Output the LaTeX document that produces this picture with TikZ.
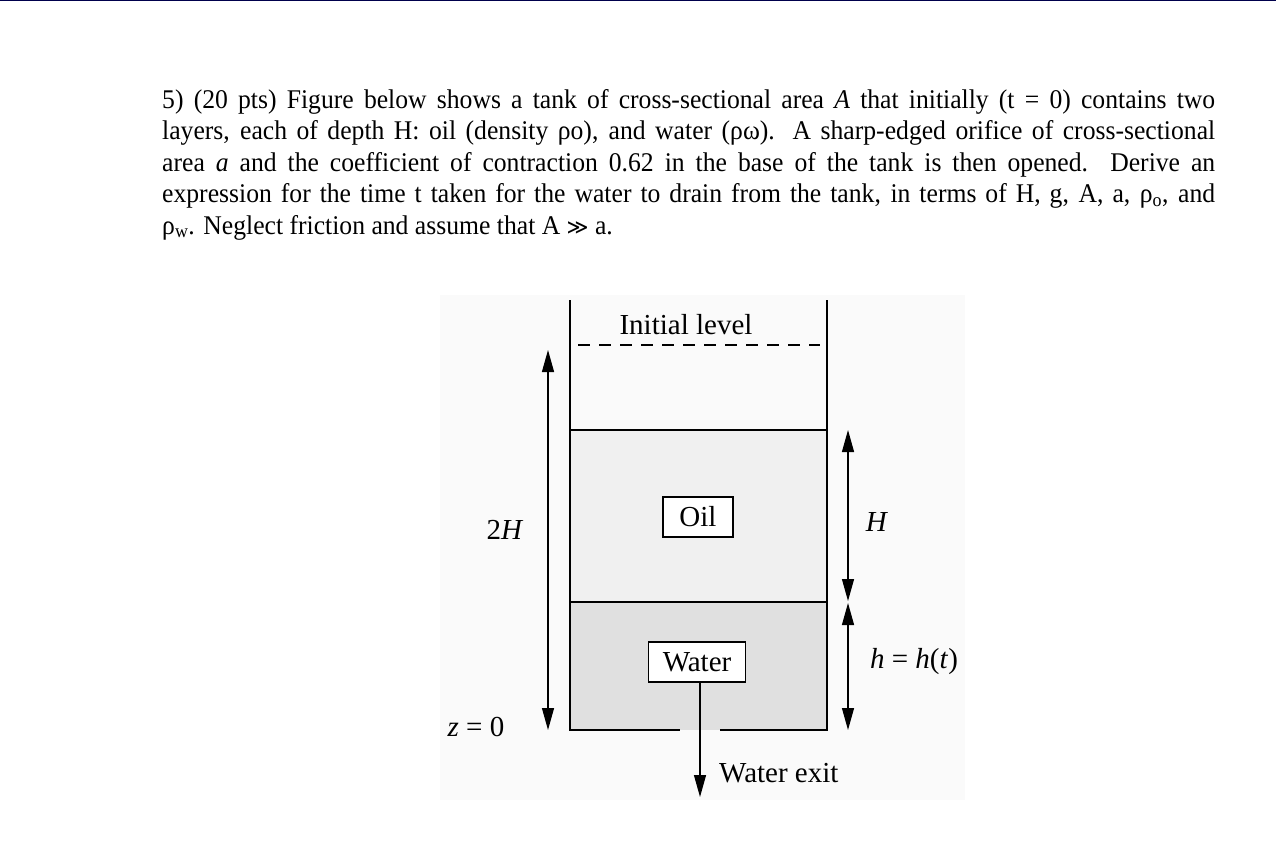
\documentclass[tikz,border=0pt]{standalone}
\usepackage{fontspec}
\setmainfont{Liberation Serif}
\newfontfamily\qfont{Liberation Serif}[FakeStretch=0.95]
\newfontfamily\symfont{DejaVu Sans}
\usetikzlibrary{arrows.meta}
\begin{document}
\begin{tikzpicture}[x=1pt,y=-1pt,
  lbl/.style={font=\fontsize{29}{32}\selectfont, inner sep=1pt},
  wall/.style={line width=1.3pt},
  dim/.style={line width=1.2pt,{Triangle[length=22pt,width=12pt]}-{Triangle[length=22pt,width=12pt]}},
  tag/.style={lbl, draw, line width=1.3pt, fill=white, inner sep=0pt, minimum height=40pt}]
\useasboundingbox (0,0) rectangle (1276,843);
\fill[white] (0,0) rectangle (1276,843);
\draw[line width=2pt, color=black!70!blue] (0,0) -- (1276,0);
\node[anchor=north west, text width=1053pt, align=justify, inner sep=0pt,
  font=\qfont\fontsize{27}{31.5}\selectfont] (q) at (162,89) {5) (20 pts) Figure below shows a tank of cross-sectional area \textit{A} that initially (t = 0) contains two\linebreak layers, each of depth H: oil (density ρo), and water (ρω). A sharp-edged orifice of cross-sectional\linebreak area \textit{a} and the coefficient of contraction 0.62 in the base of the tank is then opened. Derive an\linebreak expression for the time t taken for the water to drain from the tank, in terms of H, g, A, a, ρ\textsubscript{o}, and\linebreak ρ\textsubscript{w}. Neglect friction and assume that A {\symfont\fontsize{21}{20}\selectfont ≫} a.};
\fill[black!2] (440,295) rectangle (965,800);
\fill[black!6] (570,430) rectangle (827,602);
\fill[black!12] (570,602) rectangle (827,730);
\draw[wall] (570,300) -- (570,730) -- (680,730);
\draw[wall] (720,730) -- (827,730) -- (827,300);
\draw[wall] (570,430) -- (827,430);
\draw[wall] (570,602) -- (827,602);
\draw[line width=1.2pt, dash pattern=on 12pt off 9pt] (578,345) -- (820,345);
\node[lbl] (init) at (686,325) {Initial level};
\node[tag, minimum width=70pt] (oil) at (698,517) {Oil};
\node[tag, minimum width=97pt] (water) at (697,662) {Water};
\coordinate (exit) at (700,797);
\draw[line width=1.2pt,-{Triangle[length=22pt,width=12pt]}] (water.south -| exit) -- (exit);
\node[lbl, anchor=west] (wexit) at (718,773) {Water exit};
\coordinate (a1) at (548,350); \coordinate (a2) at (548,730);
\draw[dim] (a1) -- (a2);
\node[lbl] (twoH) at (505,530) {2\textit{H}};
\node[lbl] (z0) at (476,727) {\textit{z} = 0};
\coordinate (b1) at (848,430); \coordinate (b2) at (848,601);
\coordinate (c1) at (848,603); \coordinate (c2) at (848,730);
\draw[dim] (b1) -- (b2);
\draw[dim] (c1) -- (c2);
\node[lbl] (H) at (877,522) {\textit{H}};
\node[lbl] (h) at (914,662) {\textit{h} = \textit{h}(\textit{t})};
\end{tikzpicture}
\end{document}
